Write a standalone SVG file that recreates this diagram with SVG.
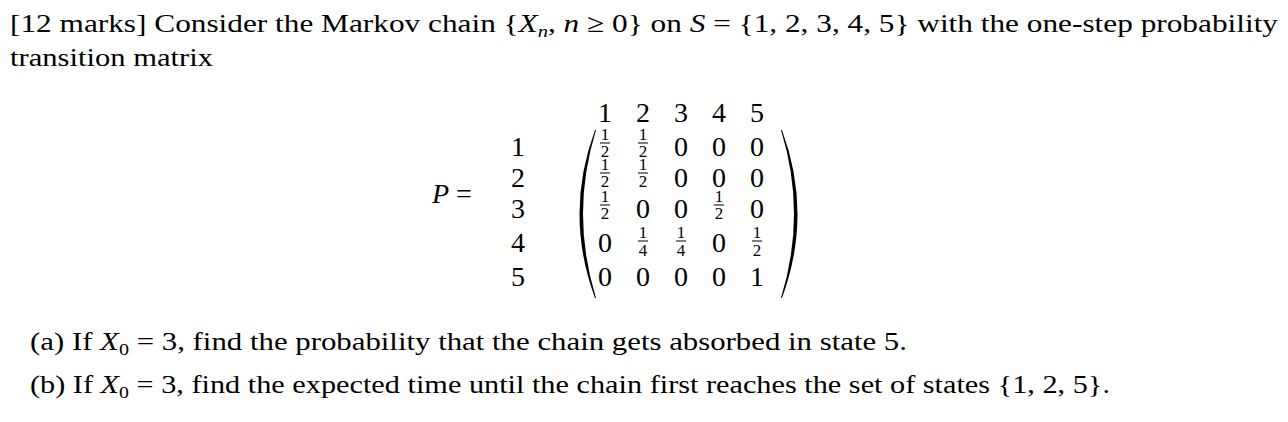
<svg xmlns="http://www.w3.org/2000/svg" width="1288" height="422" viewBox="0 0 1288 422">
<style>
text{font-family:"Liberation Serif","DejaVu Serif",serif;fill:#000}
.m{font-size:26px}
.n{font-size:28px;text-anchor:middle}
.f{font-size:17px;text-anchor:middle}
.i{font-style:italic}
.bar{stroke:#000;stroke-width:1}
</style>
<rect width="1288" height="422" fill="#fff"/>
<text class="m" x="10" y="32" textLength="1268" lengthAdjust="spacingAndGlyphs">[12 marks] Consider the Markov chain {<tspan class="i">X</tspan><tspan font-size="17" dy="5" class="i">n</tspan><tspan dy="-5">, </tspan><tspan class="i">n</tspan> ≥ 0} on <tspan class="i">S</tspan> = {1, 2, 3, 4, 5} with the one-step probability</text>
<text class="m" x="10" y="66" textLength="203" lengthAdjust="spacingAndGlyphs">transition matrix</text>
<text x="432" y="203" font-size="28"><tspan class="i">P</tspan> =</text>
<g>
<text class="n" x="518" y="156">1</text><text class="n" x="518" y="187">2</text><text class="n" x="518" y="218">3</text><text class="n" x="518" y="252">4</text><text class="n" x="518" y="286">5</text>
<text class="n" x="605" y="122">1</text><text class="n" x="643" y="122">2</text><text class="n" x="681" y="122">3</text><text class="n" x="719" y="122">4</text><text class="n" x="757" y="122">5</text>
</g>
<path d="M596 130 Q570 214 596 298 L595 298 Q564 214 595 130 Z" fill="#000"/>
<path d="M781 130 Q807 214 781 298 L782 298 Q813 214 782 130 Z" fill="#000"/>
<g>
<text class="f" x="605" y="140">1</text><line class="bar" x1="600" y1="143" x2="610" y2="143"/><text class="f" x="605" y="157">2</text>
<text class="f" x="643" y="140">1</text><line class="bar" x1="638" y1="143" x2="648" y2="143"/><text class="f" x="643" y="157">2</text>
<text class="n" x="681" y="156">0</text><text class="n" x="719" y="156">0</text><text class="n" x="757" y="156">0</text>
<text class="f" x="605" y="170">1</text><line class="bar" x1="600" y1="173" x2="610" y2="173"/><text class="f" x="605" y="187">2</text>
<text class="f" x="643" y="170">1</text><line class="bar" x1="638" y1="173" x2="648" y2="173"/><text class="f" x="643" y="187">2</text>
<text class="n" x="681" y="187">0</text><text class="n" x="719" y="187">0</text><text class="n" x="757" y="187">0</text>
<text class="f" x="605" y="202">1</text><line class="bar" x1="600" y1="205" x2="610" y2="205"/><text class="f" x="605" y="219">2</text>
<text class="n" x="643" y="218">0</text><text class="n" x="681" y="218">0</text>
<text class="f" x="719" y="202">1</text><line class="bar" x1="714" y1="205" x2="724" y2="205"/><text class="f" x="719" y="219">2</text>
<text class="n" x="757" y="218">0</text>
<text class="n" x="605" y="252">0</text>
<text class="f" x="643" y="238">1</text><line class="bar" x1="638" y1="241" x2="648" y2="241"/><text class="f" x="643" y="256">4</text>
<text class="f" x="681" y="238">1</text><line class="bar" x1="676" y1="241" x2="686" y2="241"/><text class="f" x="681" y="256">4</text>
<text class="n" x="719" y="252">0</text>
<text class="f" x="757" y="238">1</text><line class="bar" x1="752" y1="241" x2="762" y2="241"/><text class="f" x="757" y="256">2</text>
<text class="n" x="605" y="286">0</text><text class="n" x="643" y="286">0</text><text class="n" x="681" y="286">0</text><text class="n" x="719" y="286">0</text><text class="n" x="757" y="286">1</text>
</g>
<text class="m" x="30" y="350" textLength="877" lengthAdjust="spacingAndGlyphs">(a)  If <tspan class="i">X</tspan><tspan font-size="17" dy="5">0</tspan><tspan dy="-5"> = 3, find the probability that the chain gets absorbed in state 5.</tspan></text>
<text class="m" x="30" y="393" textLength="1080" lengthAdjust="spacingAndGlyphs">(b)  If <tspan class="i">X</tspan><tspan font-size="17" dy="5">0</tspan><tspan dy="-5"> = 3, find the expected time until the chain first reaches the set of states {1, 2, 5}.</tspan></text>
</svg>
